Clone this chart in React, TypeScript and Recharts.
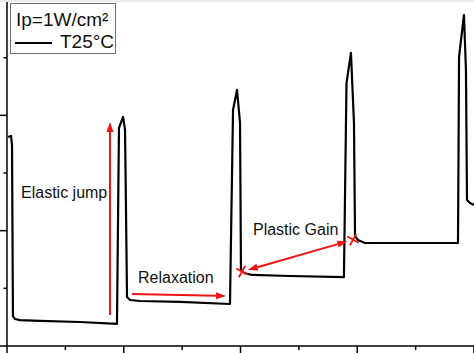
import React from 'react';
import { LineChart, Line, XAxis, YAxis, ReferenceLine, ReferenceDot } from 'recharts';

// time axis values (arbitrary units, 0..400)
const timeValues = [
  0.9, 3.4, 4.3, 5.1, 6.9, 11.1, 28.3, 62.5, 94.2,
  95.9, 99.4, 101.1, 102.8, 105.4, 113.9, 148.2, 191.0,
  193.6, 197.0, 199.6, 200.4, 203.0, 209.9, 242.4, 288.6,
  290.8, 294.6, 297.2, 298.1, 300.6, 306.6, 386.3,
  387.2, 391.4, 393.1, 394.0, 396.6, 400,
];
// signal values (arbitrary units, 0..300)
const signalValues = [
  181.2, 182.1, 174.3, 26.0, 23.4, 22.5, 21.7, 20.8, 19.1,
  189.0, 198.6, 187.3, 42.5, 39.9, 39.0, 38.2, 36.4,
  204.6, 222.0, 193.4, 65.9, 63.3, 61.6, 60.7, 59.8,
  228.0, 254.1, 193.4, 95.4, 91.9, 89.3, 89.3,
  250.6, 287.0, 239.3, 126.6, 124.0, 122.3,
];

const xTicks = [0, 50, 100, 150, 200, 250, 300, 350, 400];
const xMajorTicks = [0, 100, 200, 300, 400];
const yTicks = [0, 50, 100, 150, 200, 250, 300];
const yMajorTicks = [0, 100, 200, 300];

const legendTitle = 'Ip=1W/cm²';
const seriesName = 'T25°C';

// annotation labels (data coords of text start / baseline)
const labelNames = ['Elastic jump', 'Relaxation', 'Plastic Gain'];
const labelX = [12, 112.2, 210.7];
const labelY = [128, 54.6, 96.2];

// arrows: start -> end, headStart/headEnd, crosses at ends
const arrowX1 = [88.2, 107.1, 201.3];
const arrowY1 = [26.9, 45.1, 64.5];
const arrowX2 = [88.2, 187.6, 296.4];
const arrowY2 = [194.2, 43.4, 92.2];
const arrowBothHeads = [false, false, true];
const arrowCrosses = [false, false, true];

const data = timeValues.map((t, i) => ({ t, v: signalValues[i] }));

const RED = '#f01414';
const FONT = '"Liberation Sans", Arial, sans-serif';

function head(tx: number, ty: number, fx: number, fy: number) {
  const dx = tx - fx;
  const dy = ty - fy;
  const len = Math.sqrt(dx * dx + dy * dy) || 1;
  const ux = dx / len;
  const uy = dy / len;
  const hl = 10;
  const hw = 3.5;
  const bx = tx - ux * hl;
  const by = ty - uy * hl;
  return {
    pts: `${tx},${ty} ${bx - uy * hw},${by + ux * hw} ${bx + uy * hw},${by - ux * hw}`,
    bx,
    by,
  };
}

function makeArrowShape(both: boolean, crosses: boolean) {
  return (p: any) => {
    const { x1, y1, x2, y2 } = p;
    const off = crosses ? 6 : 0;
    const dx = x2 - x1;
    const dy = y2 - y1;
    const len = Math.sqrt(dx * dx + dy * dy) || 1;
    const ux = dx / len;
    const uy = dy / len;
    const sx = x1 + ux * off;
    const sy = y1 + uy * off;
    const ex = x2 - ux * off;
    const ey = y2 - uy * off;
    const hEnd = head(ex, ey, sx, sy);
    const hStart = both ? head(sx, sy, ex, ey) : null;
    const ls = hStart ? { x: hStart.bx, y: hStart.by } : { x: sx, y: sy };
    const cr = 6.5;
    // cross strokes rotated +-45deg from arrow direction
    const c = Math.SQRT1_2;
    const ax = (ux - uy) * c;
    const ay = (uy + ux) * c;
    const bx = (ux + uy) * c;
    const by = (uy - ux) * c;
    return (
      <g>
        <line x1={ls.x} y1={ls.y} x2={hEnd.bx} y2={hEnd.by} stroke={RED} strokeWidth={2} />
        <polygon points={hEnd.pts} fill={RED} />
        {hStart && <polygon points={hStart.pts} fill={RED} />}
        {crosses &&
          [
            [x1, y1],
            [x2, y2],
          ].map(([cx, cy], i) => (
            <g key={i}>
              <line x1={cx - ax * cr} y1={cy - ay * cr} x2={cx + ax * cr} y2={cy + ay * cr} stroke={RED} strokeWidth={1.8} />
              <line x1={cx - bx * cr} y1={cy - by * cr} x2={cx + bx * cr} y2={cy + by * cr} stroke={RED} strokeWidth={1.8} />
            </g>
          ))}
      </g>
    );
  };
}

const XTick = (p: any) => {
  const major = xMajorTicks.includes(p.payload.value);
  const len = major ? 7 : 4;
  return <line x1={p.x} x2={p.x} y1={p.y} y2={p.y + len} stroke="#000" strokeWidth={1.5} />;
};

const YTick = (p: any) => {
  const major = yMajorTicks.includes(p.payload.value);
  const len = major ? 7 : 3.5;
  return <line x1={p.x - len} x2={p.x} y1={p.y} y2={p.y} stroke="#000" strokeWidth={1.5} />;
};

export default function App() {
  return (
    <div
      style={{
        position: 'fixed',
        left: 0,
        top: 0,
        width: 474,
        height: 353,
        overflow: 'hidden',
        background: '#fff',
      }}
    >
      <LineChart width={474} height={353} data={data} margin={{ top: 0, right: 0, bottom: 0, left: 0 }}>
        <XAxis
          dataKey="t"
          type="number"
          domain={[0, 400]}
          ticks={xTicks}
          interval={0}
          height={7}
          tickSize={0}
          tickMargin={0}
          tickLine={false}
          tick={<XTick />}
          axisLine={{ stroke: '#000', strokeWidth: 1.5 }}
          allowDataOverflow
        />
        <YAxis
          type="number"
          domain={[0, 300]}
          ticks={yTicks}
          interval={0}
          width={7}
          tickSize={0}
          tickMargin={0}
          tickLine={false}
          tick={<YTick />}
          axisLine={{ stroke: '#000', strokeWidth: 1.5 }}
          allowDataOverflow
        />
        <Line
          dataKey="v"
          type="linear"
          stroke="#000"
          strokeWidth={2.2}
          dot={false}
          isAnimationActive={false}
          strokeLinejoin="round"
          name={seriesName}
        />
        {arrowX1.map((_, i) => (
          <ReferenceLine
            key={'a' + i}
            segment={[
              { x: arrowX1[i], y: arrowY1[i] },
              { x: arrowX2[i], y: arrowY2[i] },
            ]}
            shape={makeArrowShape(arrowBothHeads[i], arrowCrosses[i])}
          />
        ))}
        {labelNames.map((name, i) => (
          <ReferenceDot
            key={'l' + i}
            x={labelX[i]}
            y={labelY[i]}
            r={0}
            shape={(p: any) => (
              <text x={p.cx} y={p.cy} fontFamily={FONT} fontSize={16} fill="#111" textAnchor="start">
                {name}
              </text>
            )}
          />
        ))}
      </LineChart>
      <div
        style={{
          position: 'absolute',
          left: 0,
          top: 0,
          width: 474,
          height: 2,
          background: '#ececec',
        }}
      />
      <div
        style={{
          position: 'absolute',
          left: 10,
          top: 3,
          width: 106,
          height: 51,
          boxSizing: 'border-box',
          border: '1.5px solid #6e6e6e',
          background: '#fff',
        }}
      >
        <svg width={106} height={51} style={{ position: 'absolute', left: -1.5, top: -1.5 }}>
          <text x={6} y={23} fontFamily={FONT} fontSize={19} fill="#111">
            {legendTitle}
          </text>
          <line x1={5} x2={42} y1={40} y2={40} stroke="#000" strokeWidth={2} />
          <text x={50} y={45} fontFamily={FONT} fontSize={19} fill="#111">
            {seriesName}
          </text>
        </svg>
      </div>
    </div>
  );
}
